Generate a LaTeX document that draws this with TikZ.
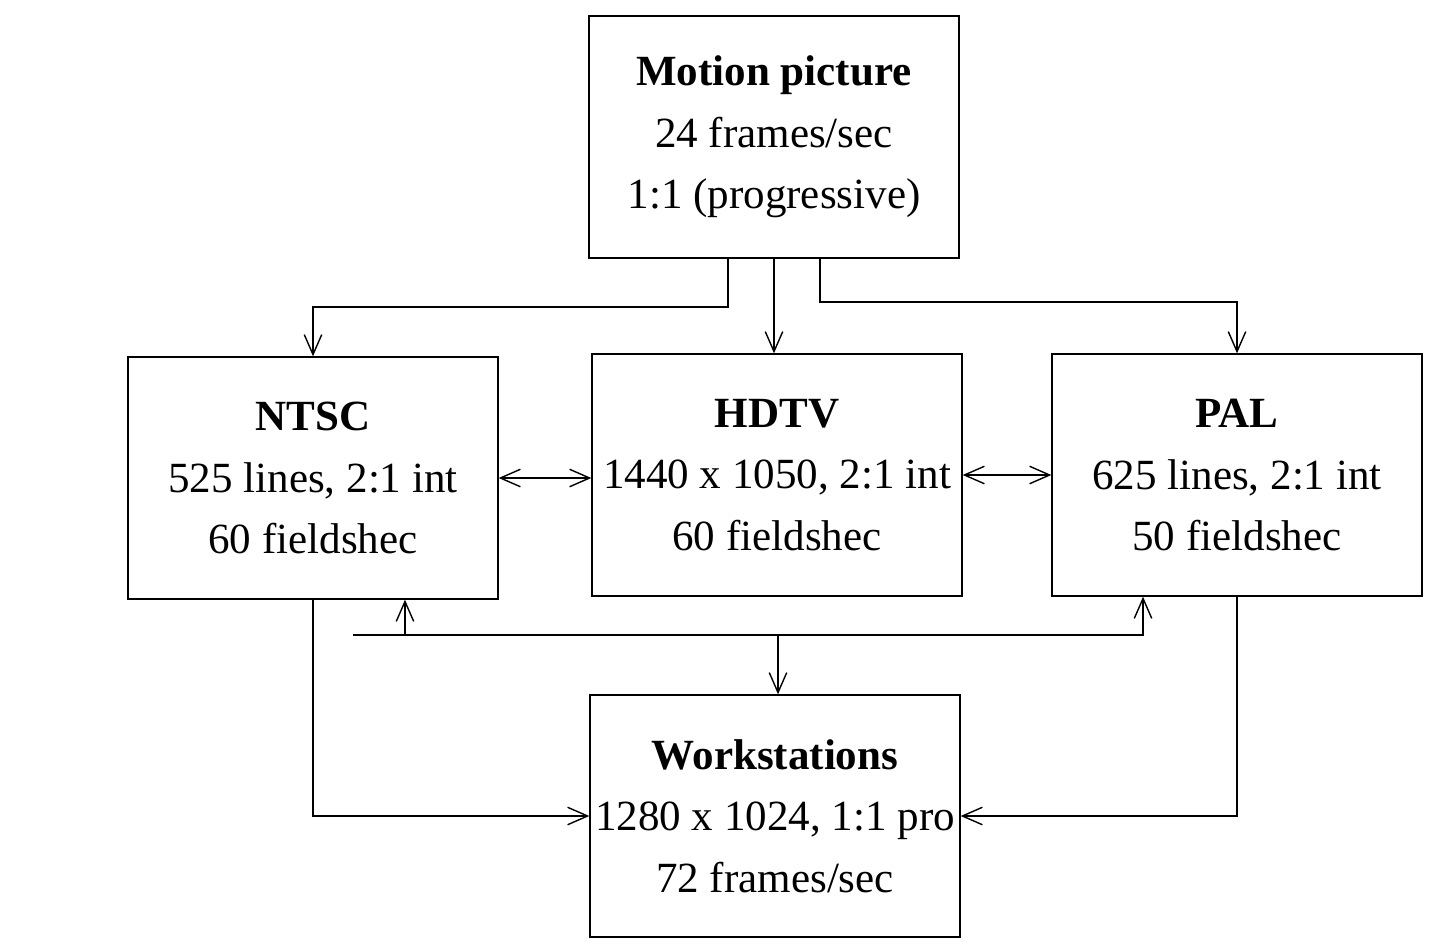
\documentclass[tikz,border=0pt]{standalone}
\usepackage{fontspec}
\setmainfont{Liberation Serif}
\usetikzlibrary{arrows.meta,positioning}
\begin{document}
\begin{tikzpicture}[
    x=0.02cm, y=-0.02cm,
    box/.style={draw, thick, minimum width=7.4cm, minimum height=4.84cm, align=center, inner sep=0pt, font=\fontsize{24.5}{35}\selectfont},
    arr/.style={thick, -{Straight Barb[length=4mm,width=3.5mm]}},
    darr/.style={thick, {Straight Barb[length=4mm,width=3.5mm]}-{Straight Barb[length=4mm,width=3.5mm]}},
]
\useasboundingbox (0,0) rectangle (1443,950);

% Boxes
\node[box] (mp) at (774,137) {\textbf{Motion picture}\\24 frames/sec\\1:1 (progressive)};
\node[box] (ntsc) at (313,478) {\textbf{NTSC}\\525 lines, 2:1 int\\60 fieldshec};
\node[box] (hdtv) at (777,475) {\textbf{HDTV}\\1440 x 1050, 2:1 int\\60 fieldshec};
\node[box] (pal) at (1237,475) {\textbf{PAL}\\625 lines, 2:1 int\\50 fieldshec};
\node[box] (ws) at (775,816) {\textbf{Workstations}\\1280 x 1024, 1:1 pro\\72 frames/sec};

% From motion picture
\coordinate (a1) at (728,307);
\coordinate (a2) at (820,302);
\draw[arr] (a1 |- mp.south) -- (a1) -| (ntsc.north);
\draw[arr] (mp.south) -- (mp.south |- hdtv.north);
\draw[arr] (a2 |- mp.south) -- (a2) -| (pal.north);

% Between the TV systems
\draw[darr] (ntsc.east) -- (ntsc.east -| hdtv.west);
\draw[darr] (hdtv.east) -- (pal.west);

% Distribution line below
\coordinate (hubL) at (353,635);
\coordinate (hub) at (778,635);
\draw[thick] (hubL) -- (hub);
\draw[arr] (hub) -- (ws.north -| hub);
\draw[arr] (hub) -| ([xshift=1.84cm]ntsc.south);
\draw[arr] (hub) -| ([xshift=-1.88cm]pal.south);

% Into workstations
\draw[arr] (ntsc.south) |- (ws.west);
\draw[arr] (pal.south) |- (ws.east);

\end{tikzpicture}
\end{document}
